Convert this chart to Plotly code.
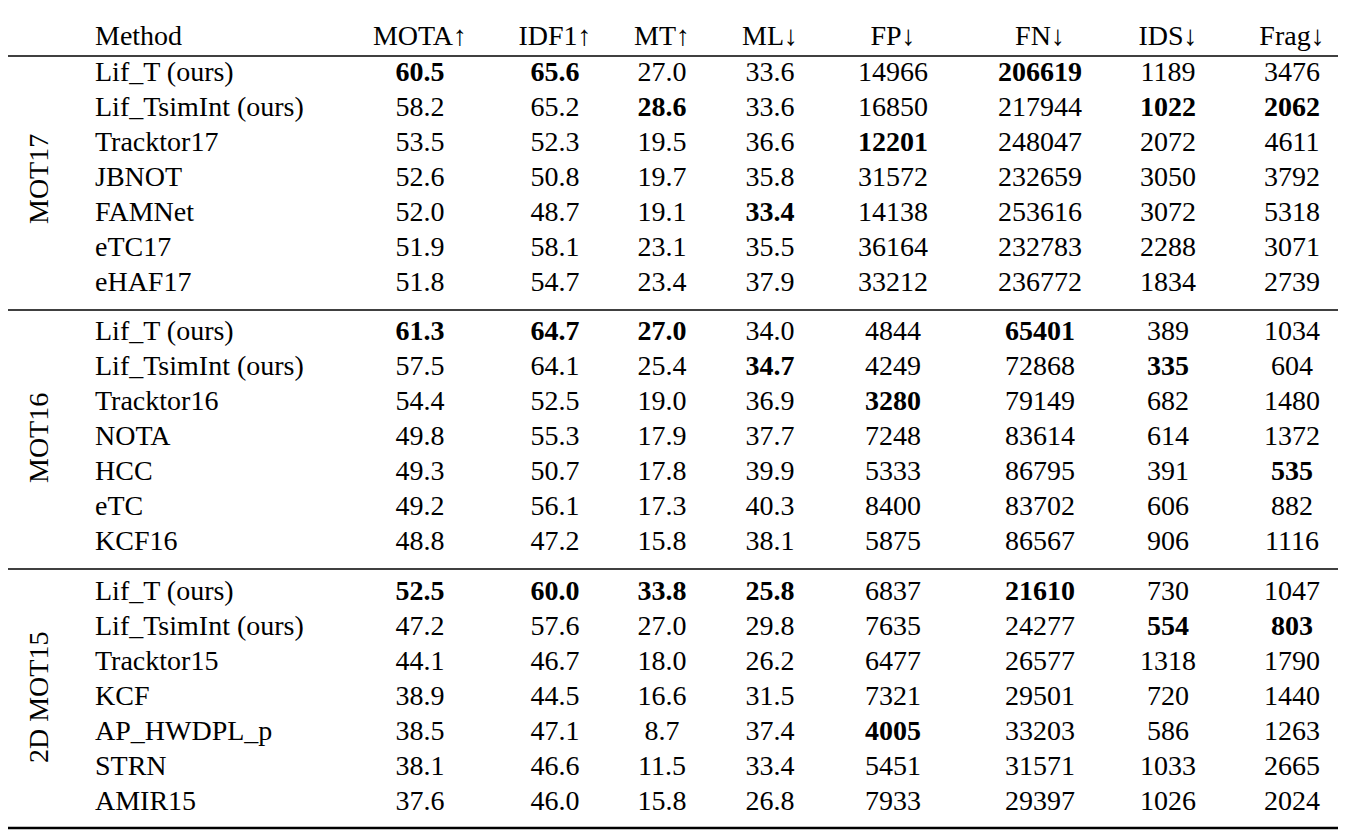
import plotly.graph_objects as go

columns = ["Method", "MOTA↑", "IDF1↑", "MT↑", "ML↓", "FP↓", "FN↓", "IDS↓", "Frag↓"]
groups = ["MOT17", "MOT16", "2D MOT15"]
methods = [
    ["Lif_T (ours)", "Lif_TsimInt (ours)", "Tracktor17", "JBNOT", "FAMNet", "eTC17", "eHAF17"],
    ["Lif_T (ours)", "Lif_TsimInt (ours)", "Tracktor16", "NOTA", "HCC", "eTC", "KCF16"],
    ["Lif_T (ours)", "Lif_TsimInt (ours)", "Tracktor15", "KCF", "AP_HWDPL_p", "STRN", "AMIR15"],
]
values = [
    [["60.5","65.6","27.0","33.6","14966","206619","1189","3476"],
     ["58.2","65.2","28.6","33.6","16850","217944","1022","2062"],
     ["53.5","52.3","19.5","36.6","12201","248047","2072","4611"],
     ["52.6","50.8","19.7","35.8","31572","232659","3050","3792"],
     ["52.0","48.7","19.1","33.4","14138","253616","3072","5318"],
     ["51.9","58.1","23.1","35.5","36164","232783","2288","3071"],
     ["51.8","54.7","23.4","37.9","33212","236772","1834","2739"]],
    [["61.3","64.7","27.0","34.0","4844","65401","389","1034"],
     ["57.5","64.1","25.4","34.7","4249","72868","335","604"],
     ["54.4","52.5","19.0","36.9","3280","79149","682","1480"],
     ["49.8","55.3","17.9","37.7","7248","83614","614","1372"],
     ["49.3","50.7","17.8","39.9","5333","86795","391","535"],
     ["49.2","56.1","17.3","40.3","8400","83702","606","882"],
     ["48.8","47.2","15.8","38.1","5875","86567","906","1116"]],
    [["52.5","60.0","33.8","25.8","6837","21610","730","1047"],
     ["47.2","57.6","27.0","29.8","7635","24277","554","803"],
     ["44.1","46.7","18.0","26.2","6477","26577","1318","1790"],
     ["38.9","44.5","16.6","31.5","7321","29501","720","1440"],
     ["38.5","47.1","8.7","37.4","4005","33203","586","1263"],
     ["38.1","46.6","11.5","33.4","5451","31571","1033","2665"],
     ["37.6","46.0","15.8","26.8","7933","29397","1026","2024"]],
]
# bold cells: (group, row, col)
bold = {(0,0,0),(0,0,1),(0,1,2),(0,2,4),(0,0,5),(0,1,6),(0,1,7),(0,4,3),
        (1,0,0),(1,0,1),(1,0,2),(1,1,3),(1,2,4),(1,0,5),(1,1,6),(1,4,7),
        (2,0,0),(2,0,1),(2,0,2),(2,0,3),(2,4,4),(2,0,5),(2,1,6),(2,1,7)}

col_x = [95, 420, 555, 662, 770, 893, 1040, 1168, 1292]
header_y = 38
group_top = [74, 333, 593]
row_step = 35
lines = [3, 56, 310, 569, 828]
FONT = "Liberation Serif"
FS = 28

fig = go.Figure()
xs, ys, ts = [], [], []
for g in range(3):
    for r in range(7):
        y = group_top[g] + r * row_step
        for c in range(8):
            v = values[g][r][c]
            xs.append(col_x[c + 1]); ys.append(y)
            ts.append(f"<b>{v}</b>" if (g, r, c) in bold else v)
for c in range(1, 9):
    xs.append(col_x[c]); ys.append(header_y); ts.append(columns[c])
fig.add_trace(go.Scatter(x=xs, y=ys, text=ts, mode="text",
                         textposition="middle center", hoverinfo="skip",
                         textfont=dict(family=FONT, size=FS, color="black")))
mx, my, mt = [col_x[0]], [header_y], [columns[0]]
for g in range(3):
    for r in range(7):
        mx.append(col_x[0]); my.append(group_top[g] + r * row_step); mt.append(methods[g][r])
fig.add_trace(go.Scatter(x=mx, y=my, text=mt, mode="text", textposition="middle right",
                         hoverinfo="skip", textfont=dict(family=FONT, size=FS, color="black")))
for g in range(3):
    fig.add_annotation(x=38, y=group_top[g] + 3 * row_step, text=groups[g], textangle=-90,
                       showarrow=False, font=dict(family=FONT, size=FS, color="black"))
for i, ly in enumerate(lines):
    fig.add_shape(type="line", x0=4, x1=1342, y0=ly, y1=ly,
                  line=dict(color="black", width=2.5 if i in (0, 4) else 1.5))

fig.update_layout(width=1346, height=832, margin=dict(l=0, r=0, t=0, b=0),
                  paper_bgcolor="white", plot_bgcolor="white", showlegend=False,
                  xaxis=dict(range=[8, 1354], visible=False, fixedrange=True),
                  yaxis=dict(range=[840, 8], visible=False, fixedrange=True))
fig.write_html("out.html")
